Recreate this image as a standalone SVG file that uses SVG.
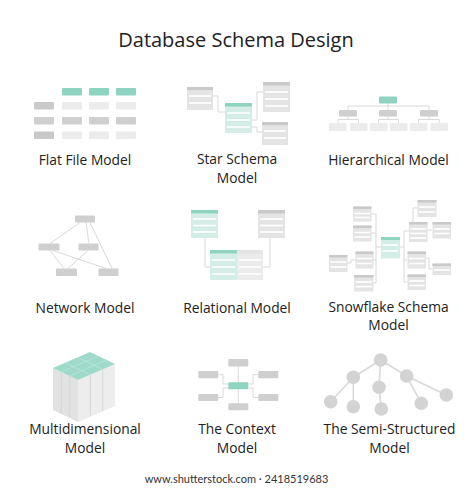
<svg xmlns="http://www.w3.org/2000/svg" width="474" height="489" viewBox="0 0 474 489">
<style>
.title{font-family:"Open Sans","Noto Sans",sans-serif;font-size:20px;fill:#222;text-anchor:middle}
.lbl{font-family:"Open Sans","Noto Sans",sans-serif;font-size:13.8px;fill:#222;text-anchor:middle}
.foot{font-family:Lato,"Liberation Sans",sans-serif;font-size:11px;fill:#333;text-anchor:middle}
.tl{fill:#8fd3c1}
.tlb{fill:#d4eee7}
.gd{fill:#c9c9c9}
.gm{fill:#cfcfcf}
.gl{fill:#e4e4e4}
.gx{fill:#ececec}
.row{stroke:#fff;stroke-width:1.6}
.ln{fill:none;stroke:#d9d9d9;stroke-width:1}
.ed{stroke:#d9d9d9;stroke-width:1.6}
.nd{fill:#d3d3d3}
</style>
<rect width="474" height="489" fill="#fff"/>
<text class="title" x="236" y="47">Database Schema Design</text>

<g id="flat-file">
<rect class="tl" x="62" y="88" width="20" height="7.5" rx="1"/>
<rect class="tl" x="89" y="88" width="20" height="7.5" rx="1"/>
<rect class="tl" x="116" y="88" width="20" height="7.5" rx="1"/>
<rect class="gd" x="34" y="102" width="20" height="7.5" rx="1"/>
<rect class="gx" x="62" y="102" width="20" height="7.5" rx="1"/>
<rect class="gx" x="89" y="102" width="20" height="7.5" rx="1"/>
<rect class="gx" x="116" y="102" width="20" height="7.5" rx="1"/>
<rect class="gm" x="34" y="117" width="20" height="7.5" rx="1"/>
<rect class="gm" x="62" y="117" width="20" height="7.5" rx="1"/>
<rect class="gm" x="89" y="117" width="20" height="7.5" rx="1"/>
<rect class="gm" x="116" y="117" width="20" height="7.5" rx="1"/>
<rect class="gd" x="34" y="131.5" width="20" height="7.5" rx="1"/>
<rect class="gx" x="62" y="131.5" width="20" height="7.5" rx="1"/>
<rect class="gx" x="89" y="131.5" width="20" height="7.5" rx="1"/>
<rect class="gx" x="116" y="131.5" width="20" height="7.5" rx="1"/>
<text class="lbl" x="85" y="165">Flat File Model</text>
</g>

<g id="star-schema">
<g class="ln">
<polyline points="213,96 218,96 218,112 225,112"/>
<polyline points="252,120 257,120 257,92 263,92"/>
<polyline points="252,127 257,127 257,132 262,132"/>
</g>
<rect class="gl" x="187" y="87" width="26" height="23"/>
<rect class="gd" x="187" y="87" width="26" height="3"/>
<line class="row" x1="189" y1="96" x2="211" y2="96"/>
<line class="row" x1="189" y1="103" x2="211" y2="103"/>
<rect class="tlb" x="225" y="103" width="27" height="30"/>
<rect class="tl" x="225" y="103" width="27" height="3.5"/>
<line class="row" x1="227" y1="113" x2="250" y2="113"/>
<line class="row" x1="227" y1="120" x2="250" y2="120"/>
<line class="row" x1="227" y1="127" x2="250" y2="127"/>
<rect class="gl" x="263" y="82" width="27" height="30"/>
<rect class="gd" x="263" y="82" width="27" height="3.5"/>
<line class="row" x1="265" y1="92" x2="288" y2="92"/>
<line class="row" x1="265" y1="99" x2="288" y2="99"/>
<line class="row" x1="265" y1="106" x2="288" y2="106"/>
<rect class="gl" x="262" y="122" width="26" height="23"/>
<rect class="gd" x="262" y="122" width="26" height="3"/>
<line class="row" x1="264" y1="131" x2="286" y2="131"/>
<line class="row" x1="264" y1="138" x2="286" y2="138"/>
<text class="lbl" x="237" y="164">Star Schema</text>
<text class="lbl" x="237" y="182.8">Model</text>
</g>

<g id="hierarchical">
<g class="ln">
<line x1="388" y1="103" x2="388" y2="110"/>
<polyline points="348,110 348,106 429,106 429,110"/>
<polyline points="338,123 338,119.5 358.5,119.5 358.5,123"/>
<line x1="348" y1="116.5" x2="348" y2="119.5"/>
<polyline points="378.5,123 378.5,119.5 398.5,119.5 398.5,123"/>
<line x1="388" y1="116.5" x2="388" y2="119.5"/>
<polyline points="418.5,123 418.5,119.5 439.3,119.5 439.3,123"/>
<line x1="429" y1="116.5" x2="429" y2="119.5"/>
</g>
<rect class="tl" x="379" y="96.5" width="18" height="7" rx="1"/>
<rect class="gm" x="339" y="110" width="18" height="6.5" rx="1"/>
<rect class="gm" x="379" y="110" width="18" height="6.5" rx="1"/>
<rect class="gm" x="420" y="110" width="18" height="6.5" rx="1"/>
<rect class="gx" x="329" y="123" width="17.5" height="8" rx="1"/>
<rect class="gx" x="350" y="123" width="17.5" height="8" rx="1"/>
<rect class="gx" x="370" y="123" width="17.5" height="8" rx="1"/>
<rect class="gx" x="390" y="123" width="17.5" height="8" rx="1"/>
<rect class="gx" x="410" y="123" width="17.5" height="8" rx="1"/>
<rect class="gx" x="430.5" y="123" width="17.5" height="8" rx="1"/>
<text class="lbl" x="388.5" y="164.5">Hierarchical Model</text>
</g>

<g id="network">
<g class="ed" style="stroke-width:1">
<line x1="80" y1="222.5" x2="50" y2="243.5"/>
<line x1="86" y1="222.5" x2="89" y2="243.5"/>
<line x1="90" y1="222.5" x2="112" y2="268.5"/>
<line x1="50" y1="250.5" x2="64" y2="268.5"/>
<line x1="53" y1="250.5" x2="106" y2="268.5"/>
<line x1="88" y1="250.5" x2="68" y2="268.5"/>
</g>
<rect class="gm" x="75" y="215.5" width="20" height="7" rx="1"/>
<rect class="gm" x="38.5" y="243.5" width="21" height="7" rx="1"/>
<rect class="gm" x="78.5" y="243.5" width="20" height="7" rx="1"/>
<rect class="gm" x="56" y="268.5" width="21" height="7.5" rx="1"/>
<rect class="gm" x="98.5" y="268.5" width="20" height="7.5" rx="1"/>
<text class="lbl" x="85" y="313">Network Model</text>
</g>

<g id="relational">
<g class="ln">
<polyline points="205,238 205,267 210,267"/>
<polyline points="270,238 270,267 263,267"/>
</g>
<rect class="tlb" x="191" y="210" width="27" height="28"/>
<rect class="tl" x="191" y="210" width="27" height="3.5"/>
<line class="row" x1="193" y1="219" x2="216" y2="219"/>
<line class="row" x1="193" y1="225.5" x2="216" y2="225.5"/>
<line class="row" x1="193" y1="232" x2="216" y2="232"/>
<rect class="gl" x="258" y="210" width="27" height="28"/>
<rect class="gd" x="258" y="210" width="27" height="3.5"/>
<line class="row" x1="260" y1="219" x2="283" y2="219"/>
<line class="row" x1="260" y1="225.5" x2="283" y2="225.5"/>
<line class="row" x1="260" y1="232" x2="283" y2="232"/>
<rect class="tlb" x="210" y="250" width="27" height="30"/>
<rect class="tl" x="210" y="250" width="27" height="3.5"/>
<line class="row" x1="212" y1="260" x2="235" y2="260"/>
<line class="row" x1="212" y1="267" x2="235" y2="267"/>
<line class="row" x1="212" y1="274" x2="235" y2="274"/>
<rect x="237" y="250" width="26" height="30" fill="#ebebeb"/>
<rect class="gl" x="237" y="250" width="26" height="3.5"/>
<line class="row" x1="239" y1="260" x2="261" y2="260"/>
<line class="row" x1="239" y1="267" x2="261" y2="267"/>
<line class="row" x1="239" y1="274" x2="261" y2="274"/>
<text class="lbl" x="237" y="313">Relational Model</text>
</g>

<g id="snowflake">
<g class="ln">
<polyline points="381,247 376,247"/>
<line x1="376" y1="214" x2="376" y2="283"/>
<line x1="371" y1="214" x2="376" y2="214"/>
<line x1="371" y1="233" x2="376" y2="233"/>
<line x1="373" y1="260" x2="376" y2="260"/>
<line x1="373" y1="283" x2="376" y2="283"/>
<polyline points="347,263 351,263 351,260 356,260"/>
<line x1="400" y1="247" x2="404" y2="247"/>
<line x1="404" y1="231" x2="404" y2="282"/>
<line x1="404" y1="231" x2="409" y2="231"/>
<line x1="404" y1="260" x2="407" y2="260"/>
<line x1="404" y1="282" x2="407" y2="282"/>
<polyline points="417,208 413,208 413,222"/>
<line x1="427" y1="230" x2="432" y2="230"/>
<polyline points="426,258 429,258 429,269 432,269"/>
</g>
<rect class="tlb" x="381" y="237" width="19" height="21.5"/>
<rect class="tl" x="381" y="237" width="19" height="3"/>
<line class="row" x1="382.5" y1="245" x2="398.5" y2="245"/>
<line class="row" x1="382.5" y1="251" x2="398.5" y2="251"/>
<g>
<rect class="gl" x="353" y="206.5" width="18.5" height="15"/>
<rect class="gd" x="353" y="206.5" width="18.5" height="2.5"/>
<line class="row" x1="354.5" y1="213.5" x2="370" y2="213.5"/>
<line class="row" x1="354.5" y1="217.5" x2="370" y2="217.5"/>
<rect class="gl" x="353" y="225.5" width="18.5" height="16"/>
<rect class="gd" x="353" y="225.5" width="18.5" height="2.5"/>
<line class="row" x1="354.5" y1="232.5" x2="370" y2="232.5"/>
<line class="row" x1="354.5" y1="237" x2="370" y2="237"/>
<rect class="gl" x="355.5" y="251.5" width="18" height="17"/>
<rect class="gd" x="355.5" y="251.5" width="18" height="2.5"/>
<line class="row" x1="357" y1="258.5" x2="372" y2="258.5"/>
<line class="row" x1="357" y1="263.5" x2="372" y2="263.5"/>
<rect class="gl" x="354" y="275" width="19.5" height="16.5"/>
<rect class="gd" x="354" y="275" width="19.5" height="2.5"/>
<line class="row" x1="355.5" y1="282" x2="372" y2="282"/>
<line class="row" x1="355.5" y1="286.5" x2="372" y2="286.5"/>
<rect class="gl" x="329" y="255" width="18.5" height="17"/>
<rect class="gd" x="329" y="255" width="18.5" height="2.5"/>
<line class="row" x1="330.5" y1="262" x2="346" y2="262"/>
<line class="row" x1="330.5" y1="267" x2="346" y2="267"/>
<rect class="gl" x="417.5" y="200" width="19" height="17"/>
<rect class="gd" x="417.5" y="200" width="19" height="2.5"/>
<line class="row" x1="419" y1="207" x2="435" y2="207"/>
<line class="row" x1="419" y1="212" x2="435" y2="212"/>
<rect class="gl" x="409" y="222" width="18.5" height="20"/>
<rect class="gd" x="409" y="222" width="18.5" height="2.5"/>
<line class="row" x1="410.5" y1="229" x2="426" y2="229"/>
<line class="row" x1="410.5" y1="233.5" x2="426" y2="233.5"/>
<line class="row" x1="410.5" y1="238" x2="426" y2="238"/>
<rect class="gl" x="432.5" y="222" width="18.5" height="16.5"/>
<rect class="gd" x="432.5" y="222" width="18.5" height="2.5"/>
<line class="row" x1="434" y1="229" x2="449.5" y2="229"/>
<line class="row" x1="434" y1="233.5" x2="449.5" y2="233.5"/>
<rect class="gl" x="407.5" y="251.5" width="18.5" height="17"/>
<rect class="gd" x="407.5" y="251.5" width="18.5" height="2.5"/>
<line class="row" x1="409" y1="258.5" x2="424.5" y2="258.5"/>
<line class="row" x1="409" y1="263.5" x2="424.5" y2="263.5"/>
<rect class="gl" x="432.5" y="263.5" width="18.5" height="11.5"/>
<rect class="gd" x="432.5" y="263.5" width="18.5" height="2.5"/>
<line class="row" x1="434" y1="270" x2="449.5" y2="270"/>
<rect class="gl" x="407.5" y="274.5" width="18.5" height="15.5"/>
<rect class="gd" x="407.5" y="274.5" width="18.5" height="2.5"/>
<line class="row" x1="409" y1="281" x2="424.5" y2="281"/>
<line class="row" x1="409" y1="285.5" x2="424.5" y2="285.5"/>
</g>
<text class="lbl" x="388.5" y="311.5">Snowflake Schema</text>
<text class="lbl" x="388.5" y="330.3">Model</text>
</g>

<g id="multidimensional">
<polygon points="53,368 78,380 78,422 53,410" fill="#e2e2e2"/>
<polygon points="78,380 115,364 115,406 78,422" fill="#ededed"/>
<polygon points="53,368 90,352 115,364 78,380" fill="#9ed9ca"/>
<g stroke="#b9e6da" stroke-width="0.8">
<line x1="61.3" y1="372" x2="98.3" y2="356"/>
<line x1="69.7" y1="376" x2="106.7" y2="360"/>
<line x1="65.3" y1="362.7" x2="90.3" y2="374.7"/>
<line x1="77.7" y1="357.3" x2="102.7" y2="369.3"/>
</g>
<g stroke="#d2d2d2" stroke-width="0.8">
<line x1="61.3" y1="372" x2="61.3" y2="414"/>
<line x1="69.7" y1="376" x2="69.7" y2="418"/>
<line x1="90.3" y1="374.7" x2="90.3" y2="416.7"/>
<line x1="102.7" y1="369.3" x2="102.7" y2="411.3"/>
</g>
<text class="lbl" x="85" y="434">Multidimensional</text>
<text class="lbl" x="85" y="452.8">Model</text>
</g>

<g id="context">
<g class="ln">
<line x1="238.3" y1="366.5" x2="238.3" y2="403.5"/>
<polyline points="218.5,374.7 223,374.7 223,384 228.5,384"/>
<polyline points="218.5,397.5 223,397.5 223,388 228.5,388"/>
<polyline points="248.3,384 253,384 253,374.7 258.5,374.7"/>
<polyline points="248.3,388 253,388 253,397.5 258.5,397.5"/>
</g>
<rect class="tl" x="228.3" y="382.2" width="20" height="7" rx="1"/>
<rect class="gm" x="228.3" y="359" width="20" height="7.5" rx="1"/>
<rect class="gm" x="228.3" y="403.3" width="20" height="7" rx="1"/>
<rect class="gm" x="198.3" y="371" width="20" height="7.3" rx="1"/>
<rect class="gm" x="198.3" y="394" width="20" height="7" rx="1"/>
<rect class="gm" x="258.3" y="371" width="20" height="7.3" rx="1"/>
<rect class="gm" x="258.3" y="394" width="20" height="7" rx="1"/>
<text class="lbl" x="237" y="434">The Context</text>
<text class="lbl" x="237" y="452.8">Model</text>
</g>

<g id="semi-structured">
<g class="ed">
<line x1="380.7" y1="360" x2="353.3" y2="377.3"/>
<line x1="380.7" y1="360" x2="379" y2="387.3"/>
<line x1="380.7" y1="360" x2="406.7" y2="376"/>
<line x1="353.3" y1="377.3" x2="330.7" y2="401.7"/>
<line x1="353.3" y1="377.3" x2="353.3" y2="406.7"/>
<line x1="379" y1="387.3" x2="381.3" y2="409"/>
<line x1="406.7" y1="376" x2="421.3" y2="403.3"/>
<line x1="406.7" y1="376" x2="446.3" y2="395"/>
</g>
<circle class="nd" cx="380.7" cy="360" r="6.8"/>
<circle class="nd" cx="353.3" cy="377.3" r="6.8"/>
<circle class="nd" cx="379" cy="387.3" r="6.8"/>
<circle class="nd" cx="406.7" cy="376" r="6.8"/>
<circle class="nd" cx="330.7" cy="401.7" r="6.8"/>
<circle class="nd" cx="353.3" cy="406.7" r="6.8"/>
<circle class="nd" cx="381.3" cy="409" r="6.8"/>
<circle class="nd" cx="421.3" cy="403.3" r="6.8"/>
<circle class="nd" cx="446.3" cy="395" r="6.8"/>
<text class="lbl" x="389.5" y="434">The Semi-Structured</text>
<text class="lbl" x="389.5" y="452.8">Model</text>
</g>

<text class="foot" x="236.5" y="483">www.shutterstock.com · 2418519683</text>
</svg>
